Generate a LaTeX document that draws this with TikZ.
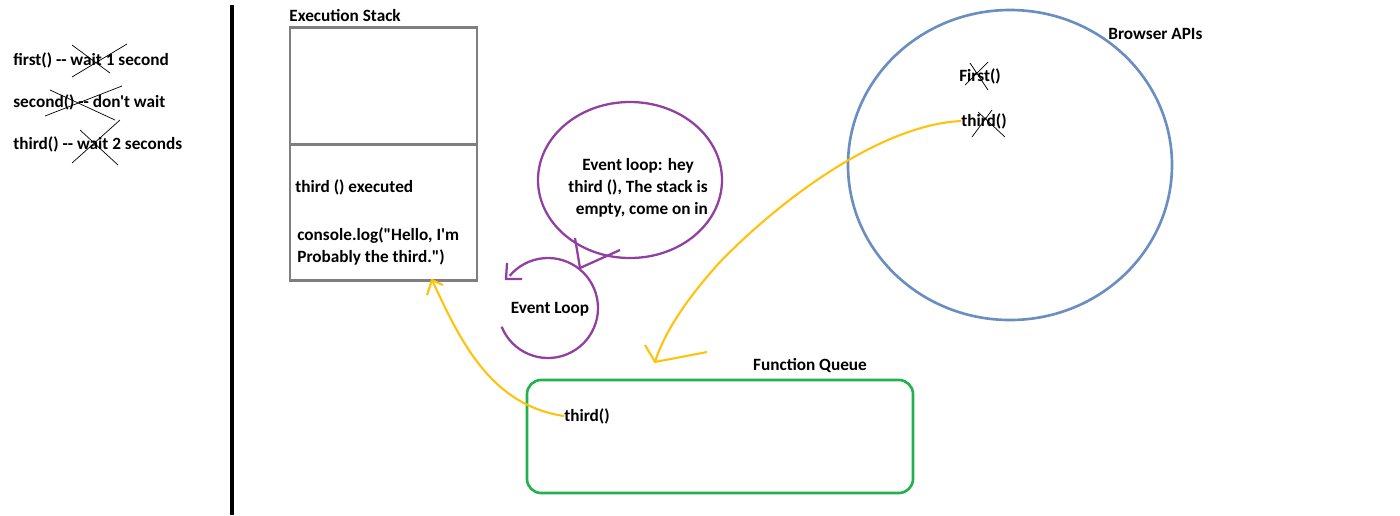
\documentclass[tikz,border=0pt]{standalone}
\usepackage{fontspec}
\setmainfont{Carlito}[Ligatures=TeXOff]
\usetikzlibrary{positioning}
\definecolor{loopviolet}{HTML}{9040A0}
\definecolor{apiblue}{HTML}{6A8EC0}
\definecolor{queuegreen}{HTML}{22B14C}
\definecolor{callyellow}{HTML}{FFC20E}
\definecolor{stackgray}{HTML}{7F7F7F}
\tikzset{
  lbl/.style={font=\bfseries\fontsize{9.8}{11.5}\selectfont, inner sep=0pt},
  cross/.style={black, line width=0.4pt},
  hand/.style={callyellow, line width=1.2pt},
}
\begin{document}
\begin{tikzpicture}[x=0.02cm, y=-0.02cm]
  \useasboundingbox (0,0) rectangle (1400,515);
  % divider
  \draw[line width=2pt] (232,5) -- (232,515);

  % tasks
  \node[lbl, anchor=west] (tfirst) at (13,60) {first() -- wait 1 second};
  \node[lbl, anchor=west] (tsecond) at (13,102) {second() -- don't wait};
  \node[lbl, anchor=west] (tthird) at (13,144) {third() -- wait 2 seconds};
  \draw[cross] (72,45) -- (110,73); \draw[cross] (72,77) -- (127,44);
  \draw[cross] (50,90) -- (115,120); \draw[cross] (45,116) -- (122,86);
  \draw[cross] (80,130) -- (118,165); \draw[cross] (72,163) -- (120,120);

  % execution stack
  \node[lbl, anchor=west] (stacklbl) at (289,16) {Execution Stack};
  \draw[stackgray, line width=1.7pt] (290,27) rectangle (477,280);
  \draw[stackgray, line width=1.7pt] (290,144) -- (477,144);
  \node[lbl, anchor=west] (executed) at (295,187) {third () executed};
  \node[lbl, anchor=west, align=left] (consolelog) at (297,246)
    {console.log("Hello, I'm\\[1pt]Probably the third.")};
  \coordinate (stackin) at (432,280);

  % event loop
  \draw[loopviolet, line width=1.3pt] (630,180) ellipse (92 and 78);
  \draw[loopviolet, line width=1.3pt] (575,238) -- (580,268) -- (620,250);
  \node[lbl, align=center] (hey) at (638,188)
    {Event loop: hey\\[1pt]third (), The stack is\\[1pt]\ \ empty, come on in};
  \draw[loopviolet, line width=1.3pt] (548,308) ++(158:50) arc[start angle=158, end angle=-140, radius=50];
  \draw[loopviolet, line width=1.3pt] (507,263) -- (506,279) -- (522,279);
  \node[lbl] (evloop) at (550,309) {Event Loop};

  % browser apis
  \draw[apiblue, line width=1.5pt] (1010,165) ellipse (162 and 155);
  \node[lbl, anchor=west] (apilbl) at (1108,34) {Browser APIs};
  \node[lbl] (apifirst) at (980,76) {First()};
  \node[lbl] (apithird) at (984,121) {third()};
  \draw[cross] (965,85) -- (988,62); \draw[cross] (970,63) -- (988,90);
  \draw[cross] (972,137) -- (992,110); \draw[cross] (978,112) -- (1005,137);

  % function queue
  \draw[queuegreen, line width=1.5pt, rounded corners=8pt] (527,380) rectangle (913,493);
  \node[lbl] (queuelbl) at (810,366) {Function Queue};
  \node[lbl] (qthird) at (587,416) {third()};
  \coordinate (queuein) at (655,362);

  % moves
  \draw[hand] (apithird.west) .. controls (880,125) and (780,200) .. (720,262)
    .. controls (690,295) and (665,330) .. (queuein);
  \draw[hand] (645,345) -- (queuein) -- (707,352);
  \draw[hand] (qthird.west) .. controls (490,405) and (460,340) .. (stackin);
  \draw[hand] (427,295) -- (stackin) -- (443,285);
\end{tikzpicture}
\end{document}
